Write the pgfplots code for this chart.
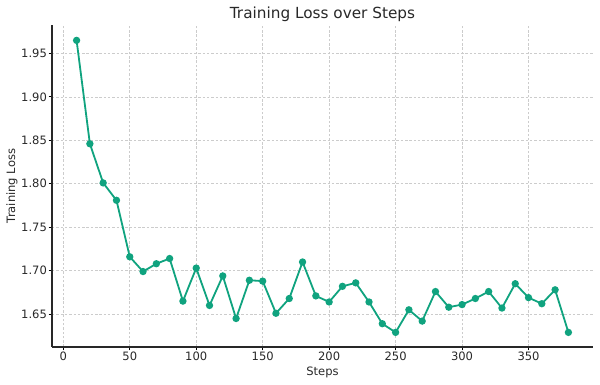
\documentclass[border=0pt]{standalone}
\usepackage{pgfplots}
\pgfplotsset{compat=1.18}
\usepackage{fontspec}
\setmainfont{DejaVu Sans}
\definecolor{lossgreen}{RGB}{16,163,127}
\definecolor{spine}{RGB}{40,40,40}
\begin{document}
\begin{tikzpicture}
\path[use as bounding box] (-37.44pt,-27.36pt) rectangle (394.56pt,249.84pt);
\begin{axis}[
  at={(0pt,0pt)}, anchor=south west,
  scale only axis, width=389.52pt, height=231.84pt,
  xmin=-8.5, xmax=398.5, ymin=1.6122, ymax=1.9827,
  axis x line*=bottom, axis y line*=left,
  axis line style={spine, line width=0.8pt, -},
  xtick={0,50,...,350}, ytick={1.65,1.70,...,1.96},
  tick style={black, line width=0.7pt},
  tick align=outside, major tick length=2.5pt,
  grid=major,
  major grid style={gray!40, line width=0.5pt, dash pattern=on 1.8pt off 1.3pt},
  /pgf/number format/assume math mode=true,
  yticklabel style={/pgf/number format/fixed, /pgf/number format/fixed zerofill, /pgf/number format/precision=2},
  tick label style={font=\fontsize{8.3}{10}\selectfont, text=spine, inner sep=1pt},
  label style={font=\fontsize{8.3}{10}\selectfont, text=spine},
  xlabel={Steps}, ylabel={Training Loss},
  xlabel style={at={(axis description cs:0.5,-0.08)}, anchor=center},
  ylabel style={at={(axis description cs:-0.074,0.5)}, anchor=center},
  title={Training Loss over Steps},
  title style={at={(axis description cs:0.5,1)}, anchor=center, yshift=1.9pt, font=\fontsize{11}{13}\selectfont, text=spine},
]
\addplot[lossgreen, line width=1.3pt, mark=*, mark size=1.95pt, mark options={fill=lossgreen, draw=lossgreen}] coordinates {
(10,1.965) (20,1.846) (30,1.801) (40,1.781) (50,1.716) (60,1.699) (70,1.708) (80,1.714)
(90,1.665) (100,1.703) (110,1.660) (120,1.694) (130,1.645) (140,1.689) (150,1.688)
(160,1.651) (170,1.668) (180,1.710) (190,1.671) (200,1.664) (210,1.682) (220,1.686)
(230,1.664) (240,1.639) (250,1.629) (260,1.655) (270,1.642) (280,1.676) (290,1.658)
(300,1.661) (310,1.668) (320,1.676) (330,1.657) (340,1.685) (350,1.669) (360,1.662)
(370,1.678) (380,1.629)
};
\end{axis}
\end{tikzpicture}
\end{document}
